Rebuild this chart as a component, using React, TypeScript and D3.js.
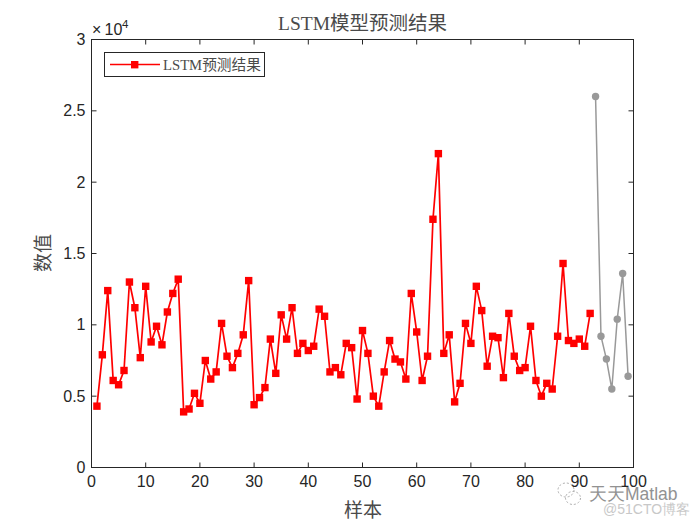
import React from "react";
import * as d3 from "d3";

const redValues = [0.43,0.79,1.24,0.61,0.58,0.68,1.30,1.12,0.77,1.27,0.88,0.99,0.86,1.09,1.22,1.32,0.39,0.41,0.52,0.45,0.75,0.62,0.67,1.01,0.78,0.70,0.80,0.93,1.31,0.44,0.49,0.56,0.90,0.66,1.07,0.90,1.12,0.80,0.87,0.82,0.85,1.11,1.06,0.67,0.70,0.65,0.87,0.84,0.48,0.96,0.80,0.50,0.43,0.67,0.89,0.76,0.74,0.62,1.22,0.95,0.61,0.78,1.74,2.20,0.80,0.93,0.46,0.59,1.01,0.87,1.27,1.10,0.71,0.92,0.91,0.63,1.08,0.78,0.68,0.70,0.99,0.61,0.50,0.59,0.55,0.92,1.43,0.89,0.87,0.90,0.85,1.08];
const grayValues = [2.60,0.92,0.76,0.55,1.04,1.36,0.64];
const grayStart = 93;
const xTicks = [0,10,20,30,40,50,60,70,80,90,100];
const yTicks = [0,0.5,1,1.5,2,2.5,3];
const yTickLabels = ["0","0.5","1","1.5","2","2.5","3"];
const title = "LSTM模型预测结果";
const legendLabel = "LSTM预测结果";
const xLabel = "样本";
const yLabel = "数值";

const sans = "'Liberation Sans', Arial, sans-serif";
const serif = "'Liberation Serif', 'Noto Sans CJK SC', serif";
const L = 91.5, R = 633.5, T = 39.5, B = 467.5;
const TICK = 5;

export default function App() {
  const x = d3.scaleLinear().domain([0, 100]).range([L, R]);
  const y = d3.scaleLinear().domain([0, 3]).range([B, T]);
  const red = redValues.map((v, i) => [i + 1, v] as [number, number]);
  const gray = grayValues.map((v, i) => [i + grayStart, v] as [number, number]);
  const line = d3.line<[number, number]>().x(d => x(d[0])).y(d => y(d[1]));
  const ink = "#262626";
  const softInk = "#4a4a4a";
  return (
    <svg width={700} height={525} style={{ position: "absolute", left: 0, top: 0, background: "#fff" }}>
      <path d={line(gray)!} fill="none" stroke="#999999" strokeWidth={1.5} />
      {gray.map((d, i) => <circle key={i} cx={x(d[0])} cy={y(d[1])} r={3.7} fill="#999999" />)}
      <path d={line(red)!} fill="none" stroke="#ff0000" strokeWidth={1.7} />
      {red.map((d, i) => <rect key={i} x={x(d[0]) - 3.7} y={y(d[1]) - 3.7} width={7.4} height={7.4} fill="#ff0000" />)}

      <rect x={L} y={T} width={R - L} height={B - T} fill="none" stroke={ink} strokeWidth={1} />
      {xTicks.map(t => (
        <g key={t}>
          <line x1={x(t)} x2={x(t)} y1={B} y2={B - TICK} stroke={ink} />
          <line x1={x(t)} x2={x(t)} y1={T} y2={T + TICK} stroke={ink} />
          <text x={x(t)} y={B + 19.5} textAnchor="middle" fontFamily={sans} fontSize={16} fill={ink}>{t}</text>
        </g>
      ))}
      {yTicks.map((t, i) => (
        <g key={t}>
          <line x1={L} x2={L + TICK} y1={y(t)} y2={y(t)} stroke={ink} />
          <line x1={R} x2={R - TICK} y1={y(t)} y2={y(t)} stroke={ink} />
          <text x={L - 6} y={y(t) + 5.5} textAnchor="end" fontFamily={sans} fontSize={16} fill={ink}>{yTickLabels[i]}</text>
        </g>
      ))}
      <text x={92} y={35} fontFamily={sans} fontSize={16} fill={ink}>×</text>
      <text x={104.5} y={35} fontFamily={sans} fontSize={16} fill={ink}>10</text>
      <text x={122} y={28} fontFamily={sans} fontSize={11.5} fill={ink}>4</text>

      <text x={362.5} y={29.5} textAnchor="middle" fontFamily={serif} fontSize={19.5} fill={softInk}>{title}</text>
      <text x={363} y={517} textAnchor="middle" fontFamily={serif} fontSize={19} fill={softInk}>{xLabel}</text>
      <text transform="translate(50,253) rotate(-90)" textAnchor="middle" fontFamily={serif} fontSize={19} fill={softInk}>{yLabel}</text>

      <rect x={104.5} y={52.5} width={160} height={24} fill="#fff" stroke={ink} />
      <line x1={110} x2={160} y1={64.5} y2={64.5} stroke="#ff0000" strokeWidth={1.7} />
      <rect x={131} y={61} width={7.4} height={7.4} fill="#ff0000" />
      <text x={163} y={70} fontFamily={serif} fontSize={14.7} fill={softInk}>{legendLabel}</text>

      <g opacity={0.8}>
        <ellipse cx={566} cy={490} rx={8} ry={7} fill="none" stroke="#999" strokeDasharray="2 2" />
        <ellipse cx={573} cy={498} rx={7.5} ry={6.5} fill="none" stroke="#999" strokeDasharray="2 2" />
        <text x={589} y={500} fontFamily={sans} fontSize={17.5} fill="#777">天天Matlab</text>
        <text x={603} y={514} fontFamily={sans} fontSize={14} fill="#bbb">@51CTO博客</text>
      </g>
    </svg>
  );
}
